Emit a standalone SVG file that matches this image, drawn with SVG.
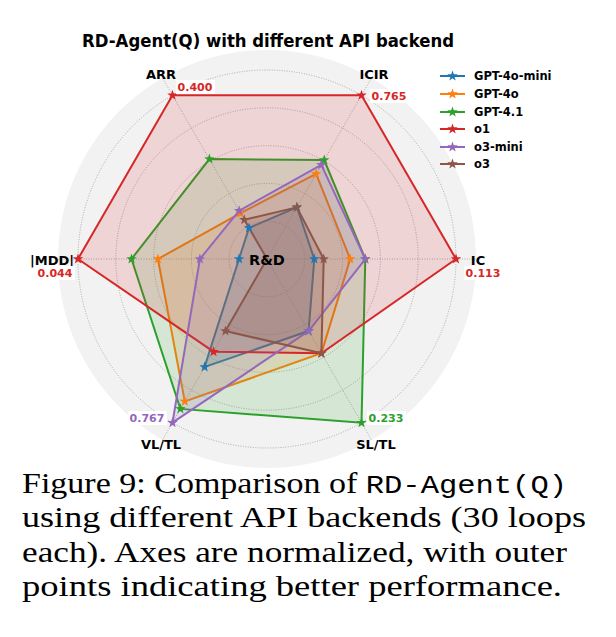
<svg xmlns="http://www.w3.org/2000/svg" xmlns:xlink="http://www.w3.org/1999/xlink" width="616" height="637" viewBox="0 0 616 637">
<style>
.t{font-family:"DejaVu Sans",sans-serif;font-weight:bold;font-size:13px;fill:#000}
.lg{font-size:11.5px}
.v{font-family:"DejaVu Sans",sans-serif;font-weight:bold;font-size:11px}
.g{fill:none;stroke:#999;stroke-width:0.8;stroke-dasharray:1,1.5}
.p{stroke-width:2;stroke-linejoin:miter}
.cap{font-family:"Liberation Serif",serif;font-size:29px;fill:#000}
.mono{font-family:"Liberation Mono",monospace;font-size:26px}
</style>
<defs>
<path id="st" d="M0,-5.5 L1.3,-1.8 5.2,-1.7 2.1,0.7 3.2,4.5 0,2.2 -3.2,4.5 -2.1,0.7 -5.2,-1.7 -1.3,-1.8Z"/>
</defs>
<rect width="616" height="637" fill="#fff"/>
<text class="t" x="268" y="47" text-anchor="middle" textLength="372" lengthAdjust="spacingAndGlyphs" style="font-size:17px">RD-Agent(Q) with different API backend</text>
<g id="grid">
<circle cx="267" cy="259" r="209" fill="#f2f2f2"/>
<circle class="g" cx="267" cy="259" r="37.8"/>
<circle class="g" cx="267" cy="259" r="75.6"/>
<circle class="g" cx="267" cy="259" r="113.4"/>
<circle class="g" cx="267" cy="259" r="151.2"/>
<circle class="g" cx="267" cy="259" r="189"/>
<path class="g" d="M267,259H476M267,259H58M267,259L371.5,78M267,259L162.5,78M267,259L162.5,440M267,259L371.5,440"/>
</g>
<g id="connectors">
<g id="s-blue" fill="#1f77b4" stroke="#1f77b4">
<polygon class="p" fill-opacity="0.2" points="314.3,259 296.9,207.3 249,227.9 239,259 204.6,367 308.6,331"/>
</g>
<g id="s-orange" fill="#ff7f0e" stroke="#ff7f0e">
<polygon class="p" fill-opacity="0.15" points="350.2,259 316.1,173.9 240.5,213.2 157.9,259 184.8,401.4 321.4,353.3"/>
</g>
<g id="s-green" fill="#2ca02c" stroke="#2ca02c">
<polygon class="p" fill-opacity="0.15" points="365.3,259 324.2,160 209.4,159.1 131.5,259 180.4,408.9 361.5,422.7"/>
</g>
<g id="s-red" fill="#d62728" stroke="#d62728">
<polygon class="p" fill-opacity="0.15" points="456,259 361.5,95.3 172.5,95.3 78,259 213.5,351.7 321.4,353.3"/>
</g>
<g id="s-purple" fill="#9467bd" stroke="#9467bd">
<polygon class="p" fill-opacity="0.15" points="365.3,259 321.3,164.9 239.1,210.7 199.9,259 172.5,422.7 308.6,331"/>
</g>
<g id="s-brown" fill="#8c564b" stroke="#8c564b">
<polygon class="p" fill-opacity="0.2" points="323.7,259 296.9,207.3 244.3,219.7 267,259 225.4,331 321.4,353.3"/>
</g>
</g>
<g id="markers">
<g fill="#1f77b4"><use xlink:href="#st" x="314.3" y="259"/><use xlink:href="#st" x="296.9" y="207.3"/><use xlink:href="#st" x="249" y="227.9"/><use xlink:href="#st" x="239" y="259"/><use xlink:href="#st" x="204.6" y="367"/><use xlink:href="#st" x="308.6" y="331"/></g>
<g fill="#ff7f0e"><use xlink:href="#st" x="350.2" y="259"/><use xlink:href="#st" x="316.1" y="173.9"/><use xlink:href="#st" x="240.5" y="213.2"/><use xlink:href="#st" x="157.9" y="259"/><use xlink:href="#st" x="184.8" y="401.4"/><use xlink:href="#st" x="321.4" y="353.3"/></g>
<g fill="#2ca02c"><use xlink:href="#st" x="365.3" y="259"/><use xlink:href="#st" x="324.2" y="160"/><use xlink:href="#st" x="209.4" y="159.1"/><use xlink:href="#st" x="131.5" y="259"/><use xlink:href="#st" x="180.4" y="408.9"/><use xlink:href="#st" x="361.5" y="422.7"/></g>
<g fill="#d62728"><use xlink:href="#st" x="456" y="259"/><use xlink:href="#st" x="361.5" y="95.3"/><use xlink:href="#st" x="172.5" y="95.3"/><use xlink:href="#st" x="78" y="259"/><use xlink:href="#st" x="213.5" y="351.7"/><use xlink:href="#st" x="321.4" y="353.3"/></g>
<g fill="#9467bd"><use xlink:href="#st" x="365.3" y="259"/><use xlink:href="#st" x="321.3" y="164.9"/><use xlink:href="#st" x="239.1" y="210.7"/><use xlink:href="#st" x="199.9" y="259"/><use xlink:href="#st" x="172.5" y="422.7"/><use xlink:href="#st" x="308.6" y="331"/></g>
<g fill="#8c564b"><use xlink:href="#st" x="323.7" y="259"/><use xlink:href="#st" x="296.9" y="207.3"/><use xlink:href="#st" x="244.3" y="219.7"/><use xlink:href="#st" x="225.4" y="331"/><use xlink:href="#st" x="321.4" y="353.3"/></g>
</g>
<g id="labels">
<text class="t" x="267" y="265" text-anchor="middle" style="font-size:14.5px">R&amp;D</text>
<text class="t" x="161" y="79" text-anchor="middle">ARR</text>
<text class="t" x="374" y="79" text-anchor="middle">ICIR</text>
<text class="t" x="478" y="265" text-anchor="middle">IC</text>
<text class="t" x="52" y="265" text-anchor="middle">|MDD|</text>
<text class="t" x="161" y="449" text-anchor="middle">VL/TL</text>
<text class="t" x="376" y="449" text-anchor="middle">SL/TL</text>
<g id="vals">
<rect x="176" y="80" width="39" height="14" fill="#fff"/>
<text class="v" x="195" y="91" text-anchor="middle" fill="#d62728">0.400</text>
<rect x="370" y="89" width="39" height="14" fill="#fff"/>
<text class="v" x="389" y="100" text-anchor="middle" fill="#d62728">0.765</text>
<rect x="464" y="266" width="39" height="14" fill="#fff"/>
<text class="v" x="483" y="277" text-anchor="middle" fill="#d62728">0.113</text>
<rect x="36" y="266" width="39" height="14" fill="#fff"/>
<text class="v" x="55" y="277" text-anchor="middle" fill="#d62728">0.044</text>
<rect x="128" y="411" width="39" height="14" fill="#fff"/>
<text class="v" x="147" y="422" text-anchor="middle" fill="#9467bd">0.767</text>
<rect x="367" y="411" width="39" height="14" fill="#fff"/>
<text class="v" x="386" y="422" text-anchor="middle" fill="#2ca02c">0.233</text>
</g>
</g>
<g id="legend">
<g stroke-width="2">
<line x1="440" y1="76" x2="465" y2="76" stroke="#1f77b4"/>
<line x1="440" y1="94" x2="465" y2="94" stroke="#ff7f0e"/>
<line x1="440" y1="112" x2="465" y2="112" stroke="#2ca02c"/>
<line x1="440" y1="129" x2="465" y2="129" stroke="#d62728"/>
<line x1="440" y1="147" x2="465" y2="147" stroke="#9467bd"/>
<line x1="440" y1="164" x2="465" y2="164" stroke="#8c564b"/>
</g>
<use xlink:href="#st" x="452.5" y="76" fill="#1f77b4"/>
<use xlink:href="#st" x="452.5" y="94" fill="#ff7f0e"/>
<use xlink:href="#st" x="452.5" y="112" fill="#2ca02c"/>
<use xlink:href="#st" x="452.5" y="129" fill="#d62728"/>
<use xlink:href="#st" x="452.5" y="147" fill="#9467bd"/>
<use xlink:href="#st" x="452.5" y="164" fill="#8c564b"/>
<text class="t lg" x="474" y="80">GPT-4o-mini</text>
<text class="t lg" x="474" y="98">GPT-4o</text>
<text class="t lg" x="474" y="116">GPT-4.1</text>
<text class="t lg" x="474" y="133">o1</text>
<text class="t lg" x="474" y="151">o3-mini</text>
<text class="t lg" x="474" y="168">o3</text>
</g>
<g id="caption">
<text class="cap" x="22" y="493" textLength="545" lengthAdjust="spacingAndGlyphs">Figure 9: Comparison of <tspan class="mono">RD-Agent(Q)</tspan></text>
<text class="cap" x="22" y="527" textLength="564" lengthAdjust="spacingAndGlyphs">using different API backends (30 loops</text>
<text class="cap" x="22" y="562" textLength="545" lengthAdjust="spacingAndGlyphs">each). Axes are normalized, with outer</text>
<text class="cap" x="22" y="596" textLength="540" lengthAdjust="spacingAndGlyphs">points indicating better performance.</text>
</g>
</svg>
